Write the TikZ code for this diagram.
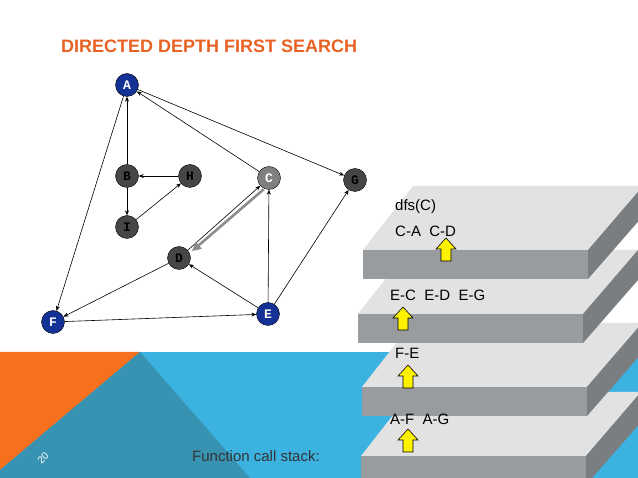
\documentclass[tikz,border=0pt]{standalone}
\usepackage{fontspec}
\setmainfont{Liberation Sans}
\newfontfamily\monof{Liberation Mono}
\usetikzlibrary{arrows.meta}
\definecolor{ttl}{RGB}{232,98,36}
\definecolor{bband}{RGB}{59,178,224}
\definecolor{teal}{RGB}{56,146,178}
\definecolor{org}{RGB}{246,112,30}
\definecolor{nblue}{RGB}{20,50,150}
\definecolor{ndark}{RGB}{70,70,70}
\definecolor{topc}{RGB}{226,226,226}
\definecolor{frontc}{RGB}{152,156,158}
\definecolor{sidec}{RGB}{122,126,128}
\tikzset{
 v/.style={circle,draw=black,fill=ndark,minimum size=23pt,inner sep=0pt,font=\monof\bfseries\fontsize{13}{13}\selectfont,text=black},
 vb/.style={v,fill=nblue,text=white},
 vc/.style={v,fill=black!50,text=white},
 e/.style={-{Stealth[length=5pt,width=4pt]},black,line width=0.6pt},
 lbl/.style={anchor=west,font=\fontsize{15}{15}\selectfont,inner sep=0pt},
 yarr/.style={fill=yellow,draw=black,line width=0.6pt}
}
\newcommand{\slab}[2]{% left x, front-top y
 \fill[topc] (#1,#2) -- (#1+50,#2-64) -- (#1+280,#2-64) -- (#1+225,#2) -- cycle;
 \fill[sidec] (#1+225,#2) -- (#1+280,#2-64) -- (#1+280,#2-34) -- (#1+225,#2+29) -- cycle;
 \fill[frontc] (#1,#2) rectangle (#1+225,#2+29);
}
\newcommand{\yarrow}[2]{% center x, top y
 \draw[yarr] (#1,#2) -- (#1+10,#2+11) -- (#1+5,#2+11) -- (#1+5,#2+23) -- (#1-5,#2+23) -- (#1-5,#2+11) -- (#1-10,#2+11) -- cycle;
}
\begin{document}
\begin{tikzpicture}[x=1pt,y=-1pt]
\useasboundingbox (0,0) rectangle (638,478);
\fill[white] (0,0) rectangle (638,478);
\fill[bband] (0,352) rectangle (638,478);
\fill[org] (0,352) -- (140,352) -- (0,470) -- cycle;
\fill[teal] (140,352) -- (250,478) -- (0,478) -- (0,470) -- cycle;
\node[anchor=west,text=ttl,font=\bfseries\fontsize{18}{18}\selectfont,inner sep=0pt] (title) at (61,46) {DIRECTED DEPTH FIRST SEARCH};
\node[text=white,rotate=45,font=\fontsize{10}{10}\selectfont,inner sep=1pt] (num) at (43,458) {20};
\node[anchor=west,text=black!80,font=\fontsize{15}{15}\selectfont,inner sep=0pt] (fcs) at (192,456) {Function call stack:};
% stack
\slab{361}{456}
\slab{362}{387}
\slab{358}{314}
\slab{363}{250}
\node[lbl] (s1) at (395,207) {dfs(C)};
\node[lbl] (s2) at (395,231) {C-A\ \ C-D};
\node[lbl] (s3) at (390,295) {E-C\ \ E-D\ \ E-G};
\node[lbl] (s4) at (395,353) {F-E};
\node[lbl] (s5) at (390,419) {A-F\ \ A-G};
\yarrow{446}{238}
\yarrow{403}{307}
\yarrow{408}{365}
\yarrow{408}{429}
% graph
\node[vb] (A) at (127,85) {A};
\node[v] (B) at (127,176) {B};
\node[v] (H) at (190,176) {H};
\node[v] (I) at (127,227) {I};
\node[vc] (C) at (269,178) {C};
\node[v] (G) at (355,180) {G};
\node[v] (D) at (179,258) {D};
\node[vb] (E) at (268,314) {E};
\node[vb] (F) at (53,322) {F};
\draw[e] (A) -- (F);
\draw[e] (A) -- (G);
\draw[e] (C) -- (A);
\draw[e] (B) -- (A);
\draw[e] (H) -- (B);
\draw[e] (B) -- (I);
\draw[e] (I) -- (H);
\draw[e] (D) -- (C);
\draw[e] (E) -- (C);
\draw[e] (E) -- (D);
\draw[e] (E) -- (G);
\draw[e] (D) -- (F);
\draw[e] (F) -- (E);
\draw[-{Triangle[length=9pt,width=9pt]},black!45,line width=2.6pt,shorten >=1pt] ([shift={(3,3)}]C.225) -- ([shift={(4,2)}]D.45);
\end{tikzpicture}
\end{document}
